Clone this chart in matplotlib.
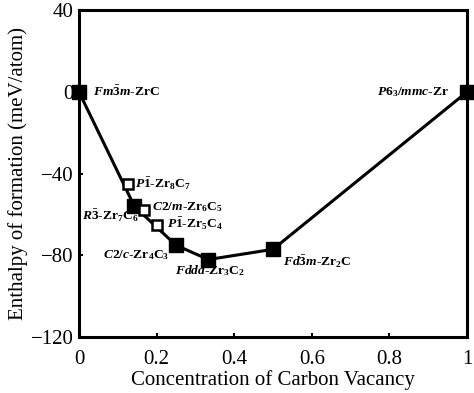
import matplotlib
matplotlib.use("Agg")
import matplotlib.pyplot as plt

plt.rcParams['font.family'] = ['Liberation Serif', 'DejaVu Serif']
plt.rcParams['mathtext.fontset'] = 'custom'
plt.rcParams['mathtext.rm'] = 'Liberation Serif:bold'
plt.rcParams['mathtext.it'] = 'Liberation Serif:bold:italic'
plt.rcParams['mathtext.bf'] = 'Liberation Serif:bold'

# hull (filled) points
hull_x = [0.0, 1/7, 0.25, 1/3, 0.5, 1.0]
hull_y = [0.0, -56, -75, -82, -77, 0.0]
# metastable (open) points
meta_x = [1/8, 1/6, 0.2]
meta_y = [-45, -58, -65]

labels = [r'$Fm\bar{3}m$-ZrC', r'$P\bar{1}$-Zr$_8$C$_7$', r'$C2/m$-Zr$_6$C$_5$',
          r'$R\bar{3}$-Zr$_7$C$_6$', r'$P\bar{1}$-Zr$_5$C$_4$', r'$C2/c$-Zr$_4$C$_3$',
          r'$Fddd$-Zr$_3$C$_2$', r'$Fd\bar{3}m$-Zr$_2$C', r'$P6_3/mmc$-Zr']
label_x = [0.035, 0.144, 0.188, 0.007, 0.226, 0.062, 0.247, 0.526, 0.955]
label_y = [0.0, -45, -56.5, -60.5, -64.5, -80, -87.5, -83, 0.0]
label_ha = ['left', 'left', 'left', 'left', 'left', 'left', 'left', 'left', 'right']

fig = plt.figure(figsize=(4.74, 3.93), dpi=100)
ax = fig.add_axes([0.1667, 0.142, 0.8185, 0.832])

ax.plot(hull_x, hull_y, '-', color='black', lw=2.2, marker='s', ms=9.5,
        mfc='black', mec='black', zorder=3, clip_on=False)
ax.plot(meta_x, meta_y, 's', ms=7.5, mfc='white', mec='black', mew=1.8,
        zorder=4, clip_on=False)

for t, x, y, ha in zip(labels, label_x, label_y, label_ha):
    ax.text(x, y, t, ha=ha, va='center', fontsize=9.7, fontweight='bold',
            zorder=5)

ax.set_xlim(0, 1)
ax.set_ylim(-120, 40)
ax.set_xticks([0, 0.2, 0.4, 0.6, 0.8, 1])
ax.set_xticklabels(['0', '0.2', '0.4', '0.6', '0.8', '1'])
ax.set_yticks([-120, -80, -40, 0, 40])
ax.set_yticklabels(['\u2212120', '\u221280', '\u221240', '0', '40'])
ax.tick_params(direction='in', length=3, width=1.5, labelsize=15)
ax.tick_params(axis='x', pad=9)
ax.tick_params(axis='y', pad=4)
for s in ax.spines.values():
    s.set_linewidth(2.2)
ax.set_xlabel('Concentration of Carbon Vacancy', fontsize=15, labelpad=1)
ax.set_ylabel('Enthalpy of formation (meV/atom)', fontsize=15, labelpad=2)

fig.savefig('out.png', dpi=100)
